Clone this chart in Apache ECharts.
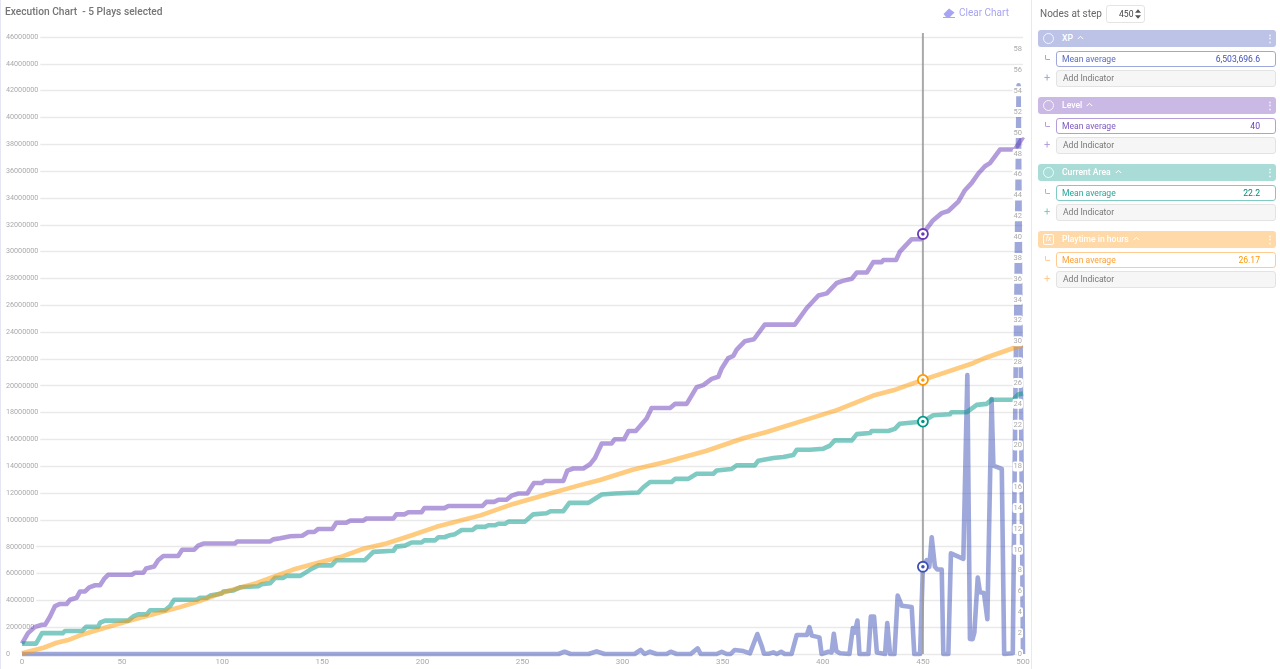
<!DOCTYPE html>
<html><head><meta charset="utf-8">
<script src="https://cdn.jsdelivr.net/npm/echarts@6/dist/echarts.min.js"></script>
<style>
html,body{margin:0;padding:0;background:#fff;font-family:Roboto,sans-serif;overflow:hidden}
#wrap{position:relative;width:1280px;height:669px;overflow:hidden}
#chart{position:absolute;left:0;top:0;width:1031px;height:669px}
#strip{position:absolute;left:0;top:0;width:1px;height:669px;background:#e4e6f4;z-index:5}
#side{position:absolute;left:1031px;top:0;width:249px;height:669px;border-left:1px solid #e9e9e9;box-sizing:border-box}
.abs{position:absolute;box-sizing:border-box;white-space:nowrap}
.hdr{left:6px;width:238px;height:17px;border-radius:3px;color:#fff;font-size:8.6px;font-weight:500;line-height:17px;padding-left:24px}
.row{left:24px;width:220px;height:16px;border-radius:3px;border:1.5px solid;background:#fff;font-size:8.6px;line-height:14.5px;padding-left:5px}
.row b{position:absolute;right:15px;top:0;font-weight:400}
.add{left:24px;width:220px;height:17px;border-radius:3px;border:1px solid #e3e3e3;background:#f6f6f6;color:#777;font-size:8.6px;line-height:15px;padding-left:6px}
.plus{left:12px;font-size:11px;line-height:12px}
.corner{left:13px;width:5px;height:5px;border-left:1px solid;border-bottom:1px solid;border-bottom-left-radius:2px}
.ring{left:11px;width:11px;height:11px;border:1.5px solid rgba(255,255,255,.8);border-radius:50%}
.keb{color:#fff;font-size:10px;font-weight:700;line-height:10px;opacity:.8}
</style></head><body>
<div id="wrap"><div id="chart"></div><div id="strip"></div>
<svg class="abs" style="left:942px;top:6px" width="14" height="13" viewBox="0 0 14 13"><path d="M1.5 8 L7 2.5 L12.5 6.5 L8 11 H4 Z" fill="#a8a4f4"/><path d="M1 11.5 H13" stroke="#a8a4f4" stroke-width="1"/></svg>
<div class="abs" style="left:959px;top:6px;font-size:10px;line-height:13px;color:#a8a4f4">Clear Chart</div>
<div id="side"></div></div>
<script>
const chartTitle = 'Execution Chart  - 5 Plays selected';
const xTickStep = 50, xMax = 500;
const leftMax = 46000000, leftStep = 2000000;
const rightMax = 59.2, rightStep = 2;
const selectedStep = [450];

const xpPoints = [[0,0],[250,0],[268,0],[271,170000],[274,0],[283,0],[287,200000],[291,0],[306,0],[309,300000],[311,0],[313.7,170000],[317,0],[322,0],[324,170000],[327,0],[334,0],[337.5,420000],[339,0],[347,0],[349.5,170000],[352,0],[354,0],[356,300000],[360.3,220000],[363.6,50000],[367.3,1490000],[369.5,600000],[370.6,20000],[373,20000],[375.3,120000],[377,0],[379.2,170000],[381,0],[384.4,0],[387,1420000],[392,1420000],[393.3,2000000],[394.5,1370000],[398.3,1240000],[399.4,0],[402.8,170000],[404.4,120000],[405.5,1500000],[406.8,200000],[408.6,50000],[413.3,0],[415,1940000],[416,1600000],[417.3,2500000],[418.3,0],[422.8,0],[424,2800000],[425.6,2800000],[427,120000],[431.1,0],[432.2,2300000],[433.6,0],[435.8,0],[437.4,4350000],[439.4,3600000],[444.4,3500000],[445.7,0],[448.6,0],[450,6503697],[451.9,7000000],[453.2,6500000],[454.4,8700000],[456,6500000],[457.2,6300000],[459.4,6300000],[460.2,0],[462.7,0],[464,7500000],[470.2,7100000],[472.2,20800000],[473.5,1120000],[474.8,1100000],[475.7,1600000],[477.4,5700000],[478.5,4600000],[480.5,4550000],[482.2,2600000],[483,2600000],[484.3,19000000],[485.2,14050000],[489.4,13800000],[490.6,0],[494.9,50000],[497.8,42400000],[500,0]];
const levelPoints = [[0,1],[3,2],[6.5,2.6],[10,2.8],[11.5,2.8],[14,3.6],[16.5,4.6],[19,4.8],[22.3,4.8],[24,5.2],[27.3,5.4],[29,6],[31.5,6],[33.6,6.4],[36.5,6.6],[39,6.6],[41,7.2],[43,7.6],[54.8,7.6],[56.5,7.8],[60.6,7.8],[62,8.2],[66,8.4],[68,9],[70.6,9.4],[78,9.4],[80,10],[86,10],[88,10.4],[90.6,10.6],[106.4,10.6],[107.5,10.8],[124,10.8],[125.5,11],[129,11.1],[134,11.3],[140,11.35],[143,11.7],[146,11.7],[148,12],[155,12],[157,12.6],[162,12.6],[164,12.8],[170.5,12.8],[172,13],[185.5,13],[187,13.4],[191,13.4],[193,13.6],[199.6,13.6],[201,14],[211,14],[213,14.2],[230,14.2],[232,14.6],[236,14.6],[238,14.8],[242,14.8],[244.6,15.2],[248,15.4],[252.4,15.4],[253.7,15.8],[255.7,16.4],[259.6,16.4],[261,16.6],[270.4,16.6],[272.4,17.6],[275.4,17.8],[280.4,17.8],[283.7,18.2],[286.2,18.8],[289.6,20.2],[294.5,20.2],[296,20.6],[300.7,20.6],[303,21.4],[306.6,21.4],[312,22.6],[314.5,23.6],[323.7,23.6],[326.2,24],[332,24],[337,25.6],[340.3,25.8],[344.5,26.4],[347.8,26.6],[349.5,27.4],[352.8,28.4],[355.3,28.6],[357,29.2],[361,30],[365.6,30.2],[371,31.6],[386,31.6],[392,33.2],[397.8,34.4],[402,34.6],[407,35.6],[410,35.8],[414.5,36],[417,36.6],[422,36.6],[425.2,37.6],[429.4,37.6],[430.2,37.8],[436.6,37.8],[438.5,38.6],[444.4,39.8],[449.4,39.8],[450,40.3],[455,41.6],[459.4,42.3],[462.7,42.5],[467.7,43.4],[471,44.5],[474.4,45.2],[477.7,46.1],[481,46.8],[483.5,47.1],[488.5,48.4],[496,48.4],[500,49.6]];
const areaPoints = [[0,1],[7,1],[10,2],[20.3,2],[21.5,2.2],[30,2.2],[32,2.6],[38,2.6],[39,3],[41.5,3.2],[53,3.2],[55.6,3.6],[58,3.8],[62.3,3.8],[64,4.2],[71.4,4.2],[74,4.6],[76,5.2],[87.3,5.2],[89,5.4],[92.3,5.4],[94,5.6],[99.7,5.8],[100.6,6],[105.6,6.1],[109,6.4],[118,6.5],[119.7,6.7],[124,6.8],[126.4,7.3],[130.5,7.3],[132,7.5],[139,7.5],[144,8.1],[148,8.5],[154.6,8.5],[157,9],[171.3,9],[175.5,9.8],[185.5,9.9],[187,10.3],[191.3,10.4],[194.6,10.7],[199.6,10.7],[201,10.9],[206.3,10.9],[208,11.2],[211,11.2],[213.8,11.4],[216.3,11.5],[219.6,11.9],[225,11.9],[227,12.2],[231.3,12.2],[233,12.35],[236.3,12.35],[238,12.5],[241.3,12.5],[243,12.7],[251.2,12.7],[255.4,13.4],[262,13.5],[264,13.7],[270.4,13.7],[273.4,14.5],[282.9,14.5],[286.2,14.9],[289.6,15.3],[296,15.4],[307.9,15.5],[310.4,16],[313.7,16.5],[324.5,16.5],[326.2,16.8],[332.8,16.8],[337,17.3],[345.3,17.3],[347,17.6],[354.5,17.75],[357,18.1],[366,18.1],[367.8,18.55],[375.3,18.8],[380.3,18.9],[385.3,19.1],[387,19.6],[393.6,19.6],[400.3,19.7],[403.6,20],[406,20.5],[414.5,20.5],[417,21.1],[423.6,21.2],[424.4,21.4],[432.7,21.4],[436,21.6],[438.5,22.1],[450,22.3],[455.2,22.9],[463.5,23],[464.3,23.2],[471.9,23.2],[476.9,23.9],[481.8,24],[484.3,24.4],[495.1,24.4],[497.5,24.9],[500,25]];
const playtimePoints = [[0,0.07],[10.8,0.6],[17.3,1.08],[23,1.34],[30.6,1.9],[42.3,2.56],[54,3.2],[67.3,3.9],[79,4.5],[89,5.1],[99,5.8],[105.6,6.2],[117,6.8],[125.5,7.4],[135.5,8.1],[147,8.7],[159,9.3],[170.5,10.1],[182,10.6],[194,11.35],[207,12.2],[229,13.3],[245.4,14.4],[262,15.3],[278.7,16.2],[288.7,16.7],[305.4,17.7],[322,18.45],[342,19.5],[360.3,20.7],[372,21.3],[388.6,22.3],[407,23.4],[425.2,24.8],[435.2,25.3],[450,26.3],[475,27.9],[481,28.4],[497.5,29.5],[500,29.6]];

const markerValues = { xp: 6503697, level: 40.3, area: 22.3, playtime: 26.3 };
const panelNames = ['XP','Level','Current Area','Playtime in hours'];
const panelValues = ['6,503,696.6','40','22.2','26.17'];

const colors = { xp:'#3f51b5', level:'#673ab7', area:'#009688', playtime:'#ff9800' };
function lineS(name, data, color, yi){
  return {name, type:'line', data, yAxisIndex:yi, showSymbol:false, symbol:'none', clip:false, z:3,
    lineStyle:{color, width:4.6, opacity:.5, join:'round'}, itemStyle:{color}};
}
function marks(name, val, color, yi){
  return [
   {type:'scatter', name:name+' marker', yAxisIndex:yi, data:[[selectedStep[0],val]], symbolSize:10, z:6, silent:true,
     itemStyle:{color:'#fff', borderColor:color, borderWidth:1.8, opacity:1}},
   {type:'scatter', name:name+' dot', yAxisIndex:yi, data:[[selectedStep[0],val]], symbolSize:3.5, z:7, silent:true,
     itemStyle:{color, opacity:1}}
  ];
}
const chart = echarts.init(document.getElementById('chart'), null, {renderer:'canvas'});
chart.setOption({
  animation:false, backgroundColor:'#fff',
  textStyle:{fontFamily:'Roboto'},
  title:{text:chartTitle, left:5, top:6, padding:0, textStyle:{fontFamily:'Roboto', fontSize:10.2, fontWeight:500, color:'#757575', lineHeight:13}},
  grid:{left:22, right:8, top:37, bottom:15, containLabel:false, outerBoundsMode:'none'},
  xAxis:{type:'value', min:0, max:xMax, interval:xTickStep, axisLine:{show:false}, axisTick:{show:false}, splitLine:{show:false},
    axisLabel:{fontSize:8, color:'#aaa', margin:4, hideOverlap:false}},
  yAxis:[
   {type:'value', min:0, max:leftMax, interval:leftStep, axisLine:{show:false}, axisTick:{show:false},
    splitLine:{show:true, lineStyle:{color:'#e9e9e9', width:1.4}},
    axisLabel:{inside:true, margin:-16, fontSize:7.2, color:'#aaa', align:'left', verticalAlign:'middle', backgroundColor:'#fff', padding:[0,2,0,0], formatter:v=>String(v)}},
   {type:'value', position:'right', min:0, max:rightMax, interval:rightStep, z:5, axisLine:{show:false}, axisTick:{show:false}, splitLine:{show:false},
    axisLabel:{inside:true, margin:0, showMaxLabel:false, fontSize:7.5, color:'#aaa', align:'right', verticalAlign:'middle', backgroundColor:'#fff', borderRadius:2, padding:[1,1,1,1]}}
  ],
  series:[
   lineS('XP', xpPoints, colors.xp, 0),
   lineS('Level', levelPoints, colors.level, 1),
   lineS('Current Area', areaPoints, colors.area, 1),
   lineS('Playtime in hours', playtimePoints, colors.playtime, 1),
   {type:'line', name:'step', data:[[selectedStep[0],0],[selectedStep[0],46300000]], yAxisIndex:0, symbol:'none', clip:false, z:4, silent:true, lineStyle:{color:'#9a9a9a', width:2, opacity:.85}},
   ...marks('XP', markerValues.xp, colors.xp, 0),
   ...marks('Level', markerValues.level, colors.level, 1),
   ...marks('Area', markerValues.area, colors.area, 1),
   ...marks('Playtime', markerValues.playtime, colors.playtime, 1)
  ]
});
// side panel
const panelTops = [30,97,164,231];
const hdrBg = ['#bcc3e7','#cbb9e5','#a9dcd6','#ffd9a8'];
const rowBorder = ['#9fa8da','#b39ddb','#7fcac3','#ffcb90'];
const rowText = ['#5c6bc0','#7e57c2','#26a69a','#ffa033'];
const valText = ['#3f51b5','#673ab7','#00897b','#ff9800'];
let h = '<div class="abs" style="left:8px;top:7px;font-size:10px;line-height:14px;color:#666">Nodes at step</div>'+
 '<div class="abs" style="left:74px;top:5px;width:39px;height:18px;border:1px solid #e4e4e4;border-radius:3px;font-size:8.6px;line-height:16px;padding-left:12px;color:#444">450'+
 '<svg class="abs" style="left:28px;top:3px" width="6" height="10" viewBox="0 0 7 11"><path d="M3.5 0 L7 4 H0 Z M0 7 H7 L3.5 11 Z" fill="#555"/></svg></div>';
panelNames.forEach((n,i)=>{
  const t = panelTops[i];
  const icon = i===3
    ? `<div class="abs" style="left:11px;top:${t+3}px;width:11px;height:11px;border:1px solid rgba(255,255,255,.85);border-radius:2px;color:#fff;font-size:7px;line-height:9px;text-align:center;font-style:italic">fx</div>`
    : `<div class="abs ring" style="top:${t+3}px"></div>`;
  h += `<div class="abs hdr" style="top:${t}px;background:${hdrBg[i]}">${n}&nbsp;&nbsp;<svg width="7" height="5" viewBox="0 0 7 5" style="vertical-align:1px"><path d="M.8 4 L3.5 1.3 L6.2 4" fill="none" stroke="#fff" stroke-width="1"/></svg></div>`;
  h += icon;
  h += `<div class="abs keb" style="top:${t+4}px;left:233px">⋮</div>`;
  h += `<div class="abs corner" style="top:${t+25}px;border-color:${rowBorder[i]}"></div>`;
  h += `<div class="abs row" style="top:${t+21}px;border-color:${rowBorder[i]};color:${rowText[i]}">Mean average<b style="color:${valText[i]}">${panelValues[i]}</b></div>`;
  h += `<div class="abs plus" style="top:${t+42}px;color:${rowBorder[i]}">+</div>`;
  h += `<div class="abs add" style="top:${t+40}px">Add Indicator</div>`;
});
document.getElementById('side').innerHTML = h;
</script></body></html>
